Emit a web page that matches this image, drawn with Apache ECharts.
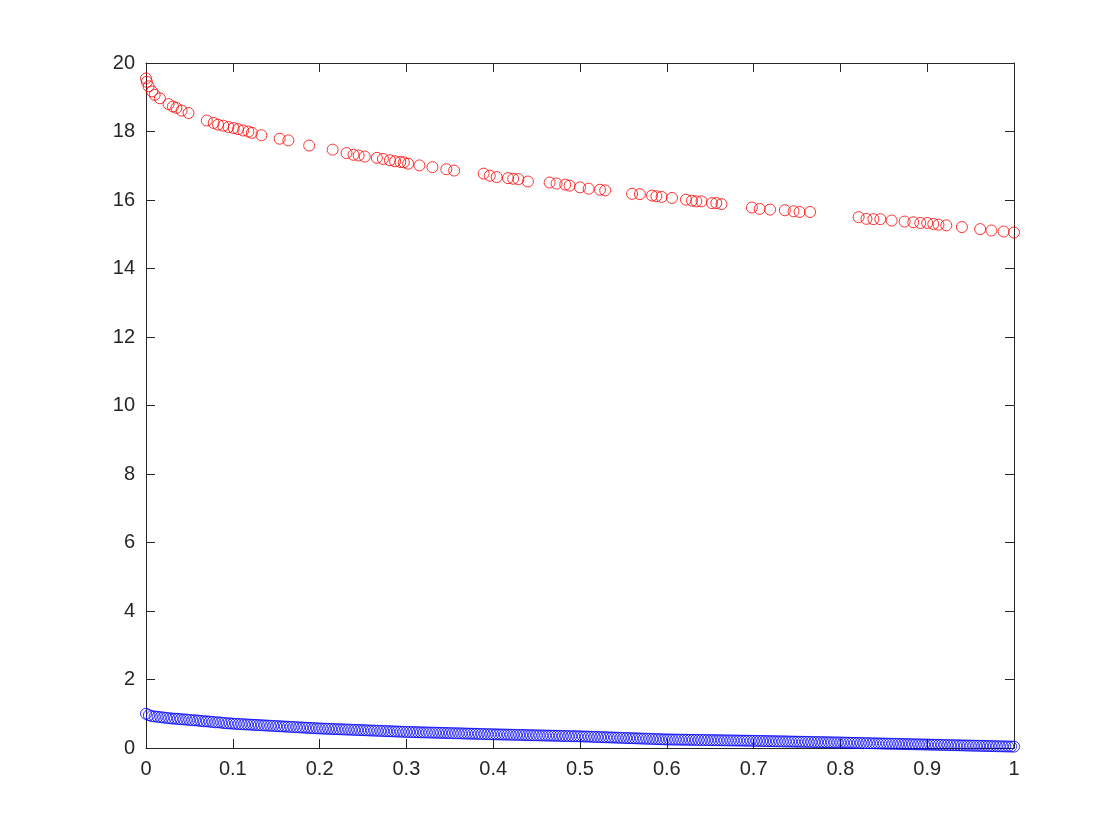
<!DOCTYPE html>
<html>
<head>
<meta charset="utf-8">
<script src="https://cdn.jsdelivr.net/npm/echarts@6/dist/echarts.min.js"></script>
<style>
  html, body { margin: 0; padding: 0; background: #fff; }
  #chart { width: 1120px; height: 840px; }
</style>
</head>
<body>
<div id="chart"></div>
<script>
// red markers: x positions and values
const redX = [0.000, 0.001, 0.003, 0.007, 0.010, 0.016, 0.026, 0.031, 0.035, 0.041, 0.049,
  0.070, 0.078, 0.083, 0.089, 0.095, 0.101, 0.106, 0.112, 0.118, 0.122, 0.133, 0.154, 0.164,
  0.188, 0.215, 0.231, 0.239, 0.245, 0.252, 0.266, 0.273, 0.281, 0.287, 0.293, 0.297, 0.302,
  0.315, 0.330, 0.346, 0.355, 0.389, 0.396, 0.404, 0.417, 0.423, 0.429, 0.440, 0.465, 0.473,
  0.483, 0.488, 0.500, 0.510, 0.523, 0.529, 0.560, 0.569, 0.583, 0.588, 0.594, 0.606, 0.622,
  0.629, 0.634, 0.640, 0.652, 0.657, 0.663, 0.698, 0.707, 0.719, 0.736, 0.746, 0.753, 0.765,
  0.821, 0.830, 0.838, 0.846, 0.859, 0.874, 0.884, 0.892, 0.900, 0.907, 0.913, 0.922, 0.940,
  0.961, 0.974, 0.988, 1.000];
const redY = [19.55, 19.45, 19.32, 19.17, 19.07, 18.97, 18.80, 18.73, 18.69, 18.61, 18.54,
  18.32, 18.25, 18.20, 18.17, 18.13, 18.10, 18.07, 18.03, 18.00, 17.96, 17.89, 17.79, 17.74,
  17.59, 17.47, 17.37, 17.32, 17.30, 17.27, 17.23, 17.20, 17.16, 17.13, 17.11, 17.10, 17.06,
  17.01, 16.96, 16.90, 16.86, 16.77, 16.71, 16.67, 16.64, 16.62, 16.61, 16.54, 16.51, 16.48,
  16.45, 16.42, 16.37, 16.33, 16.30, 16.28, 16.18, 16.17, 16.13, 16.11, 16.09, 16.06, 16.01,
  15.98, 15.96, 15.96, 15.91, 15.91, 15.88, 15.78, 15.74, 15.72, 15.70, 15.67, 15.65, 15.65,
  15.50, 15.45, 15.44, 15.44, 15.40, 15.37, 15.35, 15.33, 15.33, 15.30, 15.28, 15.26, 15.21,
  15.15, 15.11, 15.08, 15.05];

// blue markers sit on an even grid, one every blueStep along x (301 of them)
const blueStep = 1 / 300;
const blueY = [
  // 0 .. 0.1
  1.00, 0.96, 0.93, 0.92, 0.91, 0.90, 0.89, 0.88, 0.87, 0.86, 0.855, 0.85, 0.84, 0.835, 0.83, 0.82,
  0.81, 0.81, 0.80, 0.79, 0.78, 0.78, 0.77, 0.76, 0.75, 0.75, 0.74, 0.73, 0.72, 0.72, 0.71,
  // 0.1 .. 0.2
  0.705, 0.701, 0.696, 0.691, 0.687, 0.682, 0.677, 0.673, 0.668, 0.663, 0.659, 0.654, 0.649, 0.645, 0.64,
  0.635, 0.631, 0.626, 0.621, 0.617, 0.612, 0.607, 0.603, 0.598, 0.593, 0.589, 0.584, 0.579, 0.575, 0.57,
  // 0.2 .. 0.3
  0.567, 0.563, 0.56, 0.557, 0.553, 0.55, 0.547, 0.543, 0.54, 0.537, 0.533, 0.53, 0.527, 0.523, 0.52,
  0.517, 0.513, 0.51, 0.507, 0.503, 0.5, 0.497, 0.493, 0.49, 0.487, 0.483, 0.48, 0.477, 0.473, 0.47,
  // 0.3 .. 0.4
  0.468, 0.465, 0.463, 0.461, 0.458, 0.456, 0.454, 0.451, 0.449, 0.447, 0.444, 0.442, 0.44, 0.437, 0.435,
  0.433, 0.43, 0.428, 0.426, 0.423, 0.421, 0.419, 0.416, 0.414, 0.412, 0.409, 0.407, 0.405, 0.402, 0.4,
  // 0.4 .. 0.5
  0.398, 0.396, 0.394, 0.392, 0.39, 0.388, 0.386, 0.384, 0.382, 0.38, 0.378, 0.376, 0.374, 0.372, 0.37,
  0.368, 0.366, 0.364, 0.362, 0.36, 0.358, 0.356, 0.354, 0.352, 0.35, 0.348, 0.346, 0.344, 0.342, 0.34,
  // 0.5 .. 0.6
  0.337, 0.334, 0.331, 0.328, 0.325, 0.322, 0.319, 0.316, 0.313, 0.31, 0.307, 0.304, 0.301, 0.298, 0.295,
  0.292, 0.289, 0.286, 0.283, 0.28, 0.277, 0.274, 0.271, 0.268, 0.265, 0.262, 0.259, 0.256, 0.253, 0.25,
  // 0.6 .. 0.7
  0.249, 0.247, 0.246, 0.245, 0.243, 0.242, 0.241, 0.239, 0.238, 0.237, 0.235, 0.234, 0.233, 0.231, 0.23,
  0.229, 0.227, 0.226, 0.225, 0.223, 0.222, 0.221, 0.219, 0.218, 0.217, 0.215, 0.214, 0.213, 0.211, 0.21,
  // 0.7 .. 0.8
  0.208, 0.207, 0.205, 0.203, 0.202, 0.2, 0.198, 0.197, 0.195, 0.193, 0.192, 0.19, 0.188, 0.187, 0.185,
  0.183, 0.182, 0.18, 0.178, 0.177, 0.175, 0.173, 0.172, 0.17, 0.168, 0.167, 0.165, 0.163, 0.162, 0.16,
  // 0.8 .. 0.9
  0.158, 0.156, 0.154, 0.152, 0.15, 0.148, 0.146, 0.144, 0.142, 0.14, 0.138, 0.136, 0.134, 0.132, 0.13,
  0.128, 0.126, 0.124, 0.122, 0.12, 0.118, 0.116, 0.114, 0.112, 0.11, 0.108, 0.106, 0.104, 0.102, 0.1,
  // 0.9 .. 1
  0.098, 0.096, 0.094, 0.092, 0.09, 0.088, 0.086, 0.084, 0.082, 0.08, 0.078, 0.076, 0.074, 0.072, 0.07,
  0.068, 0.066, 0.064, 0.062, 0.06, 0.058, 0.056, 0.054, 0.052, 0.05, 0.048, 0.046, 0.044, 0.042, 0.04
];

const xTicks = { min: 0, max: 1, interval: 0.1 };
const yTicks = { min: 0, max: 20, interval: 2 };

const axisColor = "#262626";
const font = "'Liberation Sans', Arial, Helvetica, sans-serif";

const chart = echarts.init(document.getElementById("chart"));

const baseAxis = (show) => ({
  type: "value",
  axisLine: { show: true, onZero: false, lineStyle: { color: axisColor, width: 1 } },
  axisTick: { show: true, inside: true, length: 9, lineStyle: { color: axisColor } },
  axisLabel: {
    show: show,
    color: axisColor,
    fontSize: 20,
    fontFamily: font,
    margin: 11,
    formatter: (v) => String(Math.round(v * 10) / 10)
  },
  splitLine: { show: false }
});

const option = {
  animation: false,
  backgroundColor: "#fff",
  grid: { left: 146, right: 106, top: 63, bottom: 92, containLabel: false },
  xAxis: [
    Object.assign(baseAxis(true), xTicks, { position: "bottom" }),
    Object.assign(baseAxis(false), xTicks, { position: "top" })
  ],
  yAxis: [
    Object.assign(baseAxis(true), yTicks, { position: "left" }),
    Object.assign(baseAxis(false), yTicks, { position: "right" })
  ],
  series: [
    {
      name: "blue",
      type: "scatter",
      symbol: "circle",
      symbolSize: 11,
      itemStyle: { color: "rgba(0,0,0,0)", borderColor: "#0000ff", borderWidth: 1 },
      data: blueY.map((y, i) => [i * blueStep, y])
    },
    {
      name: "red",
      type: "scatter",
      symbol: "circle",
      symbolSize: 11,
      itemStyle: { color: "rgba(0,0,0,0)", borderColor: "#ff0000", borderWidth: 1 },
      data: redX.map((x, i) => [x, redY[i]])
    }
  ]
};

chart.setOption(option);
</script>
</body>
</html>
